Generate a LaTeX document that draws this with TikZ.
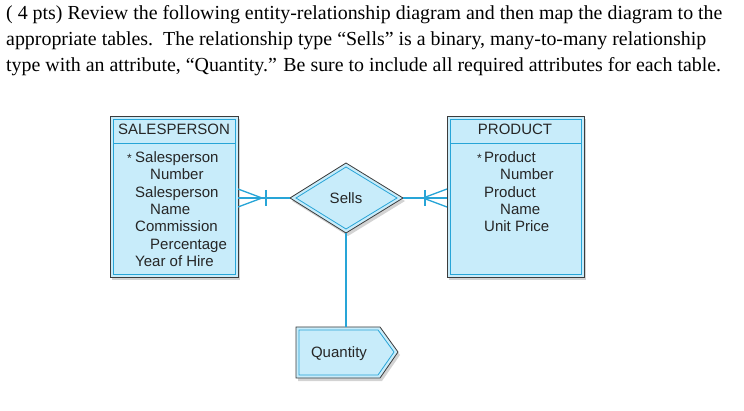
\documentclass[tikz,border=0pt]{standalone}
\usepackage{fontspec}
\setmainfont{Liberation Serif}
\newfontfamily\arial{Liberation Sans}
\usetikzlibrary{shadows}
\definecolor{lb}{RGB}{200,236,250}
\definecolor{cy}{RGB}{40,165,215}
\definecolor{dk}{RGB}{60,60,60}
\begin{document}
\begin{tikzpicture}[x=1pt,y=-1pt,
 top/.style={anchor=base west,inner sep=0,font=\fontsize{19.9}{22}\selectfont},
 bt/.style={anchor=base west,inner sep=0,font=\arial\fontsize{15}{17}\selectfont,text=black!85},
 ent/.style={draw=dk,fill=lb,line width=0.8pt,drop shadow={opacity=0.35,shadow xshift=2pt,shadow yshift=-3pt}},
 inr/.style={draw=cy,line width=0.8pt},
 con/.style={draw=cy,line width=1.3pt}]
\useasboundingbox (0,0) rectangle (744,411);
\node[top] (t1) at (6,20) {( 4 pts) Review the following entity-relationship diagram and then map the diagram to the};
\node[top] (t2) at (6,46) {appropriate tables.\ \ The relationship type “Sells” is a binary, many-to-many relationship};
\node[top] (t3) at (6,72) {type with an attribute, “Quantity.” Be sure to include all required attributes for each table.};
% entities
\path[ent] (110,116) rectangle (238,277);
\draw[inr] (113,119) rectangle (235,274);
\draw[inr] (113,143) -- (235,143);
\node[bt,anchor=base] (sp) at (174,135) {SALESPERSON};
\path[ent] (447,116) rectangle (584,277);
\draw[inr] (450,119) rectangle (581,274);
\draw[inr] (450,143) -- (581,143);
\node[bt,anchor=base] (pr) at (515,135) {PRODUCT};
\coordinate (L) at (238,198);
\coordinate (R) at (447,198);
% attributes
\node[bt,font=\arial\fontsize{12}{12}\selectfont] (s0) at (127,163) {*};
\node[bt] (s1) at (135,163) {Salesperson};
\node[bt] (s2) at (150,180) {Number};
\node[bt] (s3) at (135,198) {Salesperson};
\node[bt] (s4) at (150,215) {Name};
\node[bt] (s5) at (135,232) {Commission};
\node[bt] (s6) at (150,250) {Percentage};
\node[bt] (s7) at (135,267) {Year of Hire};
\node[bt,font=\arial\fontsize{12}{12}\selectfont] (p0) at (477,163) {*};
\node[bt] (p1) at (484,163) {Product};
\node[bt] (p2) at (500,180) {Number};
\node[bt] (p3) at (484,198) {Product};
\node[bt] (p4) at (500,215) {Name};
\node[bt] (p5) at (484,232) {Unit Price};
% diamond
\path[ent] (290,198) -- (346,163) -- (403,198) -- (346,233) -- cycle;
\draw[inr] (296,198) -- (346,167) -- (397,198) -- (346,229) -- cycle;
\coordinate (dl) at (290,198);
\coordinate (dr) at (403,198);
\coordinate (db) at (346,233);
\node[bt,anchor=base] (sells) at (346,204) {Sells};
% quantity
\path[ent] (296,327) -- (380,327) -- (398,352) -- (380,378) -- (296,378) -- cycle;
\draw[inr] (299,330) -- (378,330) -- (394,352) -- (378,375) -- (299,375) -- cycle;
\coordinate (qt) at (346,327);
\node[bt,anchor=base] (q) at (339,358) {Quantity};
% connectors
\draw[con] (L) -- (dl);
\draw[con] (238,189) -- (262,198) -- (238,207);
\draw[con] (266,190) -- (266,206);
\draw[con] (dr) -- (R);
\draw[con] (447,189) -- (423,198) -- (447,207);
\draw[con] (425,190) -- (425,206);
\draw[con] (db) -- (qt);
\end{tikzpicture}
\end{document}
